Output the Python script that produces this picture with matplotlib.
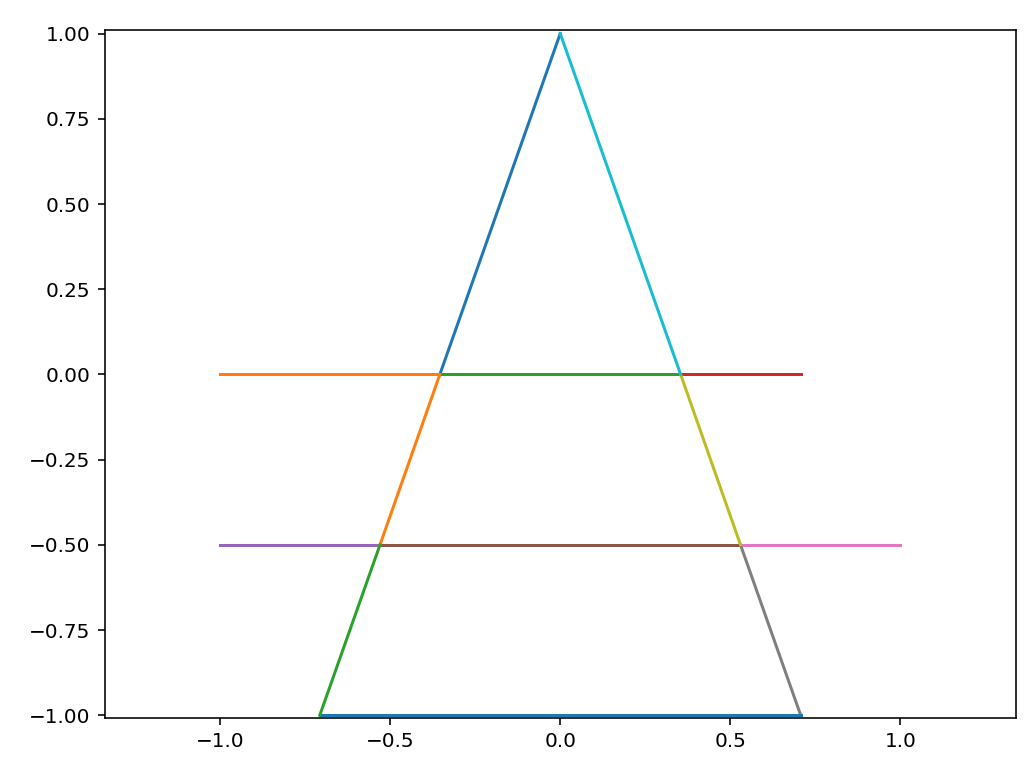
import matplotlib
matplotlib.use("Agg")
import matplotlib.pyplot as plt

# Segment endpoints (x0, x1, y0, y1), drawn in this order (default colour cycle)
seg_x0 = [0.0, -1.0, -0.354, 0.354, -1.0, -0.530, 0.530, 0.530, 0.354, 0.0, -0.707, -0.354, -0.530]
seg_x1 = [-0.354, -0.354, 0.354, 0.707, -0.530, 0.530, 1.0, 0.707, 0.530, 0.354, 0.707, -0.530, -0.707]
seg_y0 = [1.0, 0.0, 0.0, 0.0, -0.5, -0.5, -0.5, -0.5, 0.0, 1.0, -1.0, 0.0, -0.5]
seg_y1 = [0.0, 0.0, 0.0, 0.0, -0.5, -0.5, -0.5, -1.0, -0.5, 0.0, -1.0, -0.5, -1.0]

fig = plt.figure(figsize=(1032 / 144, 768 / 144), dpi=144)
ax = fig.add_axes([104.5 / 1032, 50 / 768, 911.5 / 1032, 688.5 / 768])

for a, b, c, d in zip(seg_x0, seg_x1, seg_y0, seg_y1):
    ax.plot([a, b], [c, d])

ax.set_ylim(-1.008, 1.012)
ax.set_xlim(-1.34, 1.34)
ax.set_xticks([-1.0, -0.5, 0.0, 0.5, 1.0])
ax.set_yticks([-1.0, -0.75, -0.5, -0.25, 0.0, 0.25, 0.5, 0.75, 1.0])

fig.savefig("out.png", dpi=144)
